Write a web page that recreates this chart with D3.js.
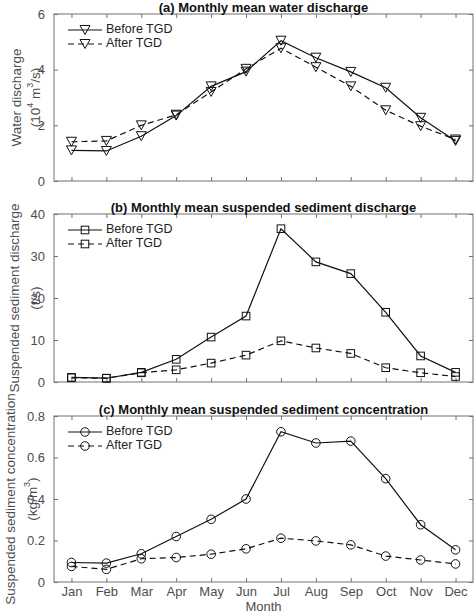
<!DOCTYPE html>
<html><head><meta charset="utf-8">
<script src="https://cdn.jsdelivr.net/npm/d3@7"></script>
<style>
body{margin:0;background:#fff;}
svg{display:block;font-family:"Liberation Sans",Arial,sans-serif;}
</style></head>
<body><svg id="c" width="474" height="615"></svg>
<script>
const months = ["Jan","Feb","Mar","Apr","May","Jun","Jul","Aug","Sep","Oct","Nov","Dec"];
const waterBefore = [1.10,1.08,1.61,2.35,3.40,3.93,5.04,4.43,3.92,3.35,2.27,1.44];
const waterAfter  = [1.41,1.44,2.00,2.38,3.20,4.03,4.77,4.09,3.40,2.54,1.97,1.49];
const sedBefore = [1.1,0.9,2.3,5.4,10.7,15.7,36.5,28.6,25.8,16.6,6.2,2.3];
const sedAfter  = [1.0,0.9,2.2,2.9,4.5,6.4,9.8,8.1,6.8,3.4,2.2,1.3];
const concBefore = [0.094,0.091,0.136,0.219,0.302,0.400,0.724,0.670,0.679,0.498,0.276,0.155];
const concAfter  = [0.075,0.061,0.112,0.118,0.134,0.160,0.211,0.198,0.179,0.125,0.106,0.087];
const waterTicks = [0,2,4,6];
const sedTicks = [0,10,20,30,40];
const concTicks = [0,0.2,0.4,0.6,0.8];
const seriesNames = ["Before TGD","After TGD"];

const svg = d3.select("#c");
const L = 54, R = 473;
const x = d3.scaleLinear().domain([0.5,12.5]).range([L,R]);
const textCol = "#4d4d4d", axCol = "#707070";

const panels = [
  {title:"(a) Monthly mean water discharge", top:14, bottom:181, dom:[0,6], ticks:waterTicks, fmt:d3.format("d"),
   data:[waterBefore,waterAfter], marker:"tri", lab1:"Water discharge", lab1x:17, lab2x:36, lab2:"unit_a", legY:30},
  {title:"(b) Monthly mean suspended sediment discharge", top:214, bottom:382, dom:[0,40], ticks:sedTicks, fmt:d3.format("d"),
   data:[sedBefore,sedAfter], marker:"sq", lab1:"Suspended sediment discharge", lab1x:15, lab2x:36, lab2:"(t/s)", legY:230},
  {title:"(c) Monthly mean suspended sediment concentration", top:416, bottom:582, dom:[0,0.8], ticks:concTicks, fmt:d=>d===0?"0":d3.format(".1f")(d),
   data:[concBefore,concAfter], marker:"circ", lab1:"Suspended sediment concentration", lab1x:11, lab2x:33, lab2:"unit_c", legY:432}
];

function drawMarker(g, type, cx, cy){
  if(type==="tri"){
    g.append("path").attr("d",`M${cx-5},${cy-4.5}L${cx+5},${cy-4.5}L${cx},${cy+4.5}Z`)
     .attr("fill","none").attr("stroke","#111").attr("stroke-width",1);
  } else if(type==="sq"){
    g.append("rect").attr("x",cx-3.8).attr("y",cy-3.8).attr("width",7.6).attr("height",7.6)
     .attr("fill","none").attr("stroke","#111").attr("stroke-width",1);
  } else {
    g.append("circle").attr("cx",cx).attr("cy",cy).attr("r",4.3)
     .attr("fill","none").attr("stroke","#111").attr("stroke-width",1);
  }
}

panels.forEach((p,pi)=>{
  const y = d3.scaleLinear().domain(p.dom).range([p.bottom,p.top]);
  const g = svg.append("g");
  const yl = g.append("g").attr("transform",`translate(${L},0)`).call(d3.axisLeft(y).tickValues(p.ticks).tickFormat(p.fmt).tickSize(-4).tickPadding(9));
  const yr = g.append("g").attr("transform",`translate(${R},0)`).call(d3.axisRight(y).tickValues(p.ticks).tickFormat("").tickSize(-4));
  const xb = g.append("g").attr("transform",`translate(0,${p.bottom})`).call(d3.axisBottom(x).tickValues(d3.range(1,13)).tickFormat(pi===2?(d=>months[d-1]):"").tickSize(-4).tickPadding(5));
  const xt = g.append("g").attr("transform",`translate(0,${p.top})`).call(d3.axisTop(x).tickValues(d3.range(1,13)).tickFormat("").tickSize(-4));
  [yl,yr,xb,xt].forEach(a=>{
    a.select(".domain").remove();
    a.selectAll("line").attr("stroke",axCol);
    a.selectAll("text").attr("fill",textCol).style("font-size","13px").style("font-family",'"Liberation Sans",Arial,sans-serif');
  });
  g.append("rect").attr("x",L).attr("y",p.top).attr("width",R-L).attr("height",p.bottom-p.top)
    .attr("fill","none").attr("stroke",axCol).attr("stroke-width",1);
  g.append("text").attr("x",(L+R)/2).attr("y",p.top-2.5).attr("text-anchor","middle")
    .attr("font-weight","bold").attr("font-size","13px").attr("fill","#111").text(p.title);
  const cy = (p.top+p.bottom)/2;
  g.append("text").attr("transform",`translate(${p.lab1x},${cy}) rotate(-90)`).attr("text-anchor","middle")
    .attr("dominant-baseline","middle").attr("font-size","13.5px").attr("fill",textCol).text(p.lab1);
  const t2 = g.append("text").attr("transform",`translate(${p.lab2x},${cy}) rotate(-90)`).attr("text-anchor","middle")
    .attr("dominant-baseline","middle").attr("font-size","13.5px").attr("fill",textCol);
  if(p.lab2==="unit_a"){
    t2.append("tspan").text("(10");
    t2.append("tspan").attr("baseline-shift","super").attr("font-size","9px").text("4");
    t2.append("tspan").text(" m");
    t2.append("tspan").attr("baseline-shift","super").attr("font-size","9px").text("3");
    t2.append("tspan").text("/s)");
  } else if(p.lab2==="unit_c"){
    t2.append("tspan").text("(kg/m");
    t2.append("tspan").attr("baseline-shift","super").attr("font-size","9px").text("3");
    t2.append("tspan").text(")");
  } else t2.text(p.lab2);
  const line = d3.line().x((d,i)=>x(i+1)).y(d=>y(d));
  p.data.forEach((arr,si)=>{
    g.append("path").datum(arr).attr("d",line).attr("fill","none").attr("stroke","#111")
      .attr("stroke-width",1.2).attr("stroke-dasharray",si===1?"6,4":null);
    arr.forEach((v,i)=>drawMarker(g,p.marker,x(i+1),y(v)));
  });
  seriesNames.forEach((nm,si)=>{
    const ly = p.legY + si*14;
    g.append("line").attr("x1",68).attr("x2",102).attr("y1",ly).attr("y2",ly).attr("stroke","#111")
      .attr("stroke-width",1.2).attr("stroke-dasharray",si===1?"6,4":null);
    drawMarker(g,p.marker,85,ly);
    g.append("text").attr("x",106).attr("y",ly).attr("dominant-baseline","middle")
      .attr("font-size","12.5px").attr("fill","#222").text(nm);
  });
});
svg.append("text").attr("x",(L+R)/2).attr("y",611).attr("text-anchor","middle").attr("font-size","13px").attr("fill",textCol).text("Month");
</script></body></html>
